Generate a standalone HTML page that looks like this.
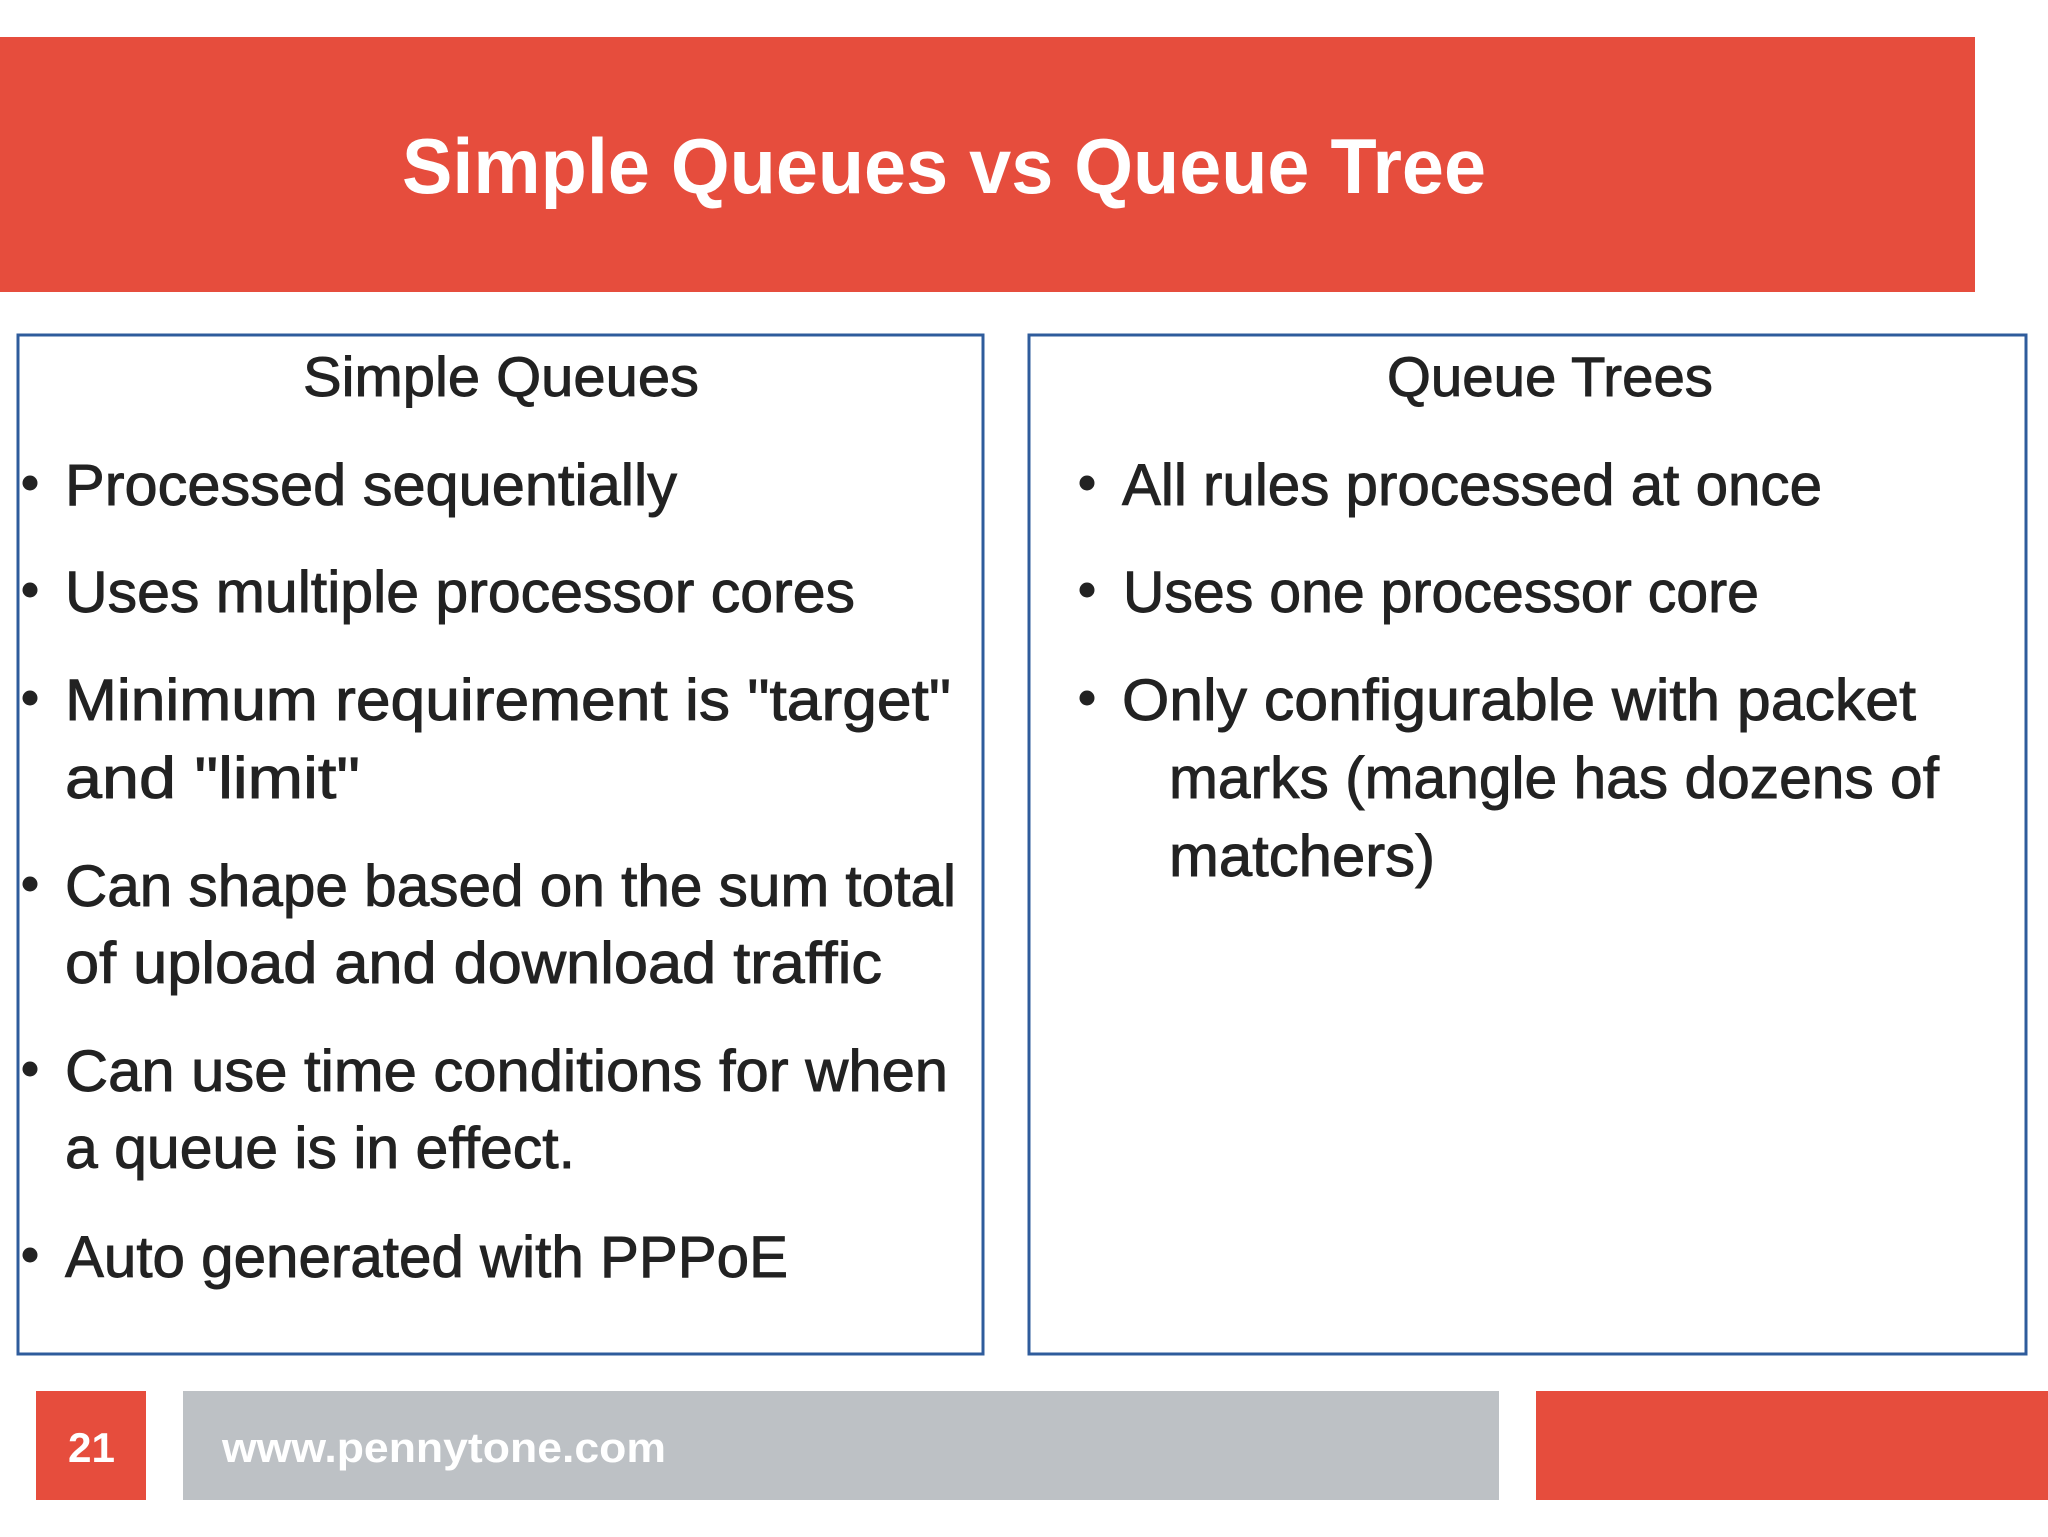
<!DOCTYPE html>
<html><head><meta charset="utf-8"><style>html,body{margin:0;padding:0;background:#fff}svg{display:block}</style></head>
<body>
<svg width="2048" height="1537" viewBox="0 0 2048 1537" xmlns="http://www.w3.org/2000/svg" font-family="Liberation Sans, sans-serif">
<rect x="0" y="37" width="1975" height="255" fill="#E64D3D"/>
<text x="402" y="193" font-size="78" font-weight="bold" fill="#fff" textLength="1084" lengthAdjust="spacingAndGlyphs">Simple Queues vs Queue Tree</text>
<rect x="18" y="335" width="965" height="1019" fill="none" stroke="#2F5C9C" stroke-width="3"/>
<rect x="1029" y="335" width="997" height="1019" fill="none" stroke="#2F5C9C" stroke-width="3"/>
<g fill="#222" stroke="#222" stroke-width="0.9" font-size="56">
<text x="303" y="396" textLength="396" lengthAdjust="spacingAndGlyphs">Simple Queues</text>
<text x="1387" y="396" textLength="326" lengthAdjust="spacingAndGlyphs">Queue Trees</text>
<g font-size="58">
<text x="65" y="505" textLength="612" lengthAdjust="spacingAndGlyphs">Processed sequentially</text>
<text x="65" y="612" textLength="790" lengthAdjust="spacingAndGlyphs">Uses multiple processor cores</text>
<text x="65" y="720" textLength="886" lengthAdjust="spacingAndGlyphs">Minimum requirement is "target"</text>
<text x="65" y="798" textLength="295" lengthAdjust="spacingAndGlyphs">and "limit"</text>
<text x="65" y="906" textLength="891" lengthAdjust="spacingAndGlyphs">Can shape based on the sum total</text>
<text x="65" y="983" textLength="817" lengthAdjust="spacingAndGlyphs">of upload and download traffic</text>
<text x="65" y="1091" textLength="883" lengthAdjust="spacingAndGlyphs">Can use time conditions for when</text>
<text x="65" y="1168" textLength="510" lengthAdjust="spacingAndGlyphs">a queue is in effect.</text>
<text x="65" y="1277" textLength="723" lengthAdjust="spacingAndGlyphs">Auto generated with PPPoE</text>
<text x="1122" y="505" textLength="700" lengthAdjust="spacingAndGlyphs">All rules processed at once</text>
<text x="1123" y="612" textLength="636" lengthAdjust="spacingAndGlyphs">Uses one processor core</text>
<text x="1122" y="720" textLength="794" lengthAdjust="spacingAndGlyphs">Only configurable with packet</text>
<text x="1169" y="798" textLength="770" lengthAdjust="spacingAndGlyphs">marks (mangle has dozens of</text>
<text x="1169" y="876" textLength="266" lengthAdjust="spacingAndGlyphs">matchers)</text>
</g>
<g stroke="none">
<circle cx="30" cy="483" r="7.5"/><circle cx="30" cy="590" r="7.5"/><circle cx="30" cy="698" r="7.5"/>
<circle cx="30" cy="884" r="7.5"/><circle cx="30" cy="1069" r="7.5"/><circle cx="30" cy="1255" r="7.5"/>
<circle cx="1087" cy="483" r="7.5"/><circle cx="1087" cy="590" r="7.5"/><circle cx="1087" cy="698" r="7.5"/>
</g>
</g>
<rect x="36" y="1391" width="110" height="109" fill="#E64D3D"/>
<rect x="183" y="1391" width="1316" height="109" fill="#BDC1C5"/>
<rect x="1536" y="1391" width="512" height="109" fill="#E64D3D"/>
<text x="68" y="1462" font-size="42" font-weight="bold" fill="#fff" textLength="47" lengthAdjust="spacingAndGlyphs">21</text>
<text x="222" y="1462" font-size="42" font-weight="bold" fill="#fff" textLength="444" lengthAdjust="spacingAndGlyphs">www.pennytone.com</text>
</svg>
</body></html>
